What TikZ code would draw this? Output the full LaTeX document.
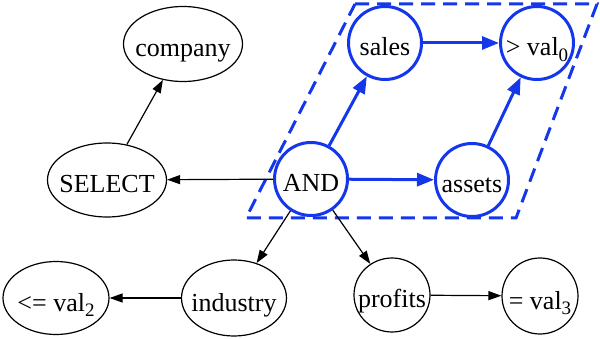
\documentclass[tikz,border=0pt]{standalone}
\usepackage{fontspec}
\setmainfont{Liberation Serif}
\usetikzlibrary{shapes.geometric,arrows.meta}
\definecolor{qblue}{RGB}{20,55,235}
\newcommand{\zlbl}[1]{\makebox[0pt]{#1}}
\newcommand{\zsub}[1]{\raisebox{-0.45ex}{\fontsize{19}{20}\selectfont #1}}
\begin{document}
\begin{tikzpicture}[x=1pt,y=-1pt,
  every node/.style={font=\fontsize{26}{28}\selectfont, inner sep=0pt, text height=28pt, text depth=2pt},
  ell/.style={draw, ellipse, line width=1.2pt},
  bcirc/.style={draw=qblue, circle, line width=3pt, minimum size=73pt},
  blk/.style={line width=1.2pt, -{Triangle[length=13pt,width=9pt]}},
  bl/.style={draw=qblue, line width=3pt, -{Triangle[length=17pt,width=13pt]}}]
\useasboundingbox (0,0) rectangle (600,339);
% nodes
\node[ell, minimum width=119pt, minimum height=75pt] (company) at (183,44) {\zlbl{company}};
\node[ell, minimum width=119pt, minimum height=74pt] (select) at (107,180) {\zlbl{SELECT}};
\node[bcirc] (and) at (311,179) {\zlbl{AND}};
\node[bcirc] (sales) at (385,43) {\zlbl{sales}};
\node[bcirc] (val0) at (537,43) {\zlbl{> val\zsub{0}}};
\node[bcirc] (assets) at (472,180) {\zlbl{assets}};
\node[ell, minimum width=105pt, minimum height=76pt] (industry) at (234,298) {\zlbl{industry}};
\node[ell, minimum width=106pt, minimum height=73pt] (val2) at (56,298) {\zlbl{<= val\zsub{2}}};
\node[ell, minimum width=76pt, minimum height=74pt] (profits) at (392,295) {\zlbl{profits}};
\node[ell, minimum width=76pt, minimum height=76pt] (val3) at (540,296) {\zlbl{= val\zsub{3}}};
% dashed parallelogram
\draw[qblue, line width=3pt, dash pattern=on 14pt off 8pt] (355,4) -- (597,4) -- (516,218) -- (246,218) -- cycle;
% black edges
\draw[blk] (select) -- (company);
\draw[blk] (and) -- (select);
\draw[blk] (and) -- (industry);
\draw[blk] (and) -- (profits);
\draw[blk] (industry) -- (val2);
\draw[blk] (profits) -- (val3);
% blue edges
\draw[bl] (and) -- (sales);
\draw[bl] (sales) -- (val0);
\draw[bl] (and) -- (assets);
\draw[bl] (assets) -- (val0);
\end{tikzpicture}
\end{document}
